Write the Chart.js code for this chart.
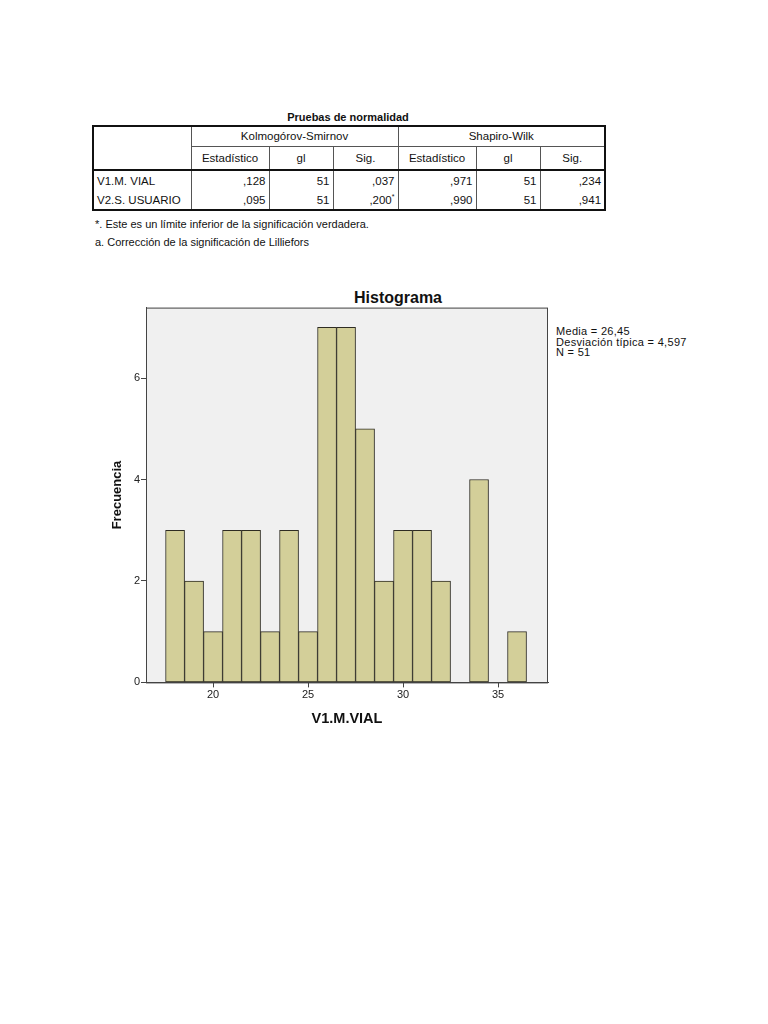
<!DOCTYPE html>
<html>
<head>
<meta charset="utf-8">
<script src="https://cdn.jsdelivr.net/npm/chart.js@4.4.1/dist/chart.umd.min.js"></script>
<style>
  html, body { margin: 0; padding: 0; background: #fff; }
  body { width: 768px; height: 1024px; position: relative; font-family: 'Liberation Sans', Arial, sans-serif; color: #111; }
  .caption { position: absolute; left: 92px; width: 512px; top: 111px; text-align: center; font-weight: bold; font-size: 11px; }
  table.norm { position: absolute; left: 92px; top: 125px; width: 512px; table-layout: fixed; border-collapse: collapse; font-size: 11.5px; border: 2px solid #111; }
  table.norm td { box-sizing: border-box; padding: 0 3px; height: 20px; border-left: 1px solid #555; white-space: nowrap; overflow: visible; }
  table.norm .h1 td { border-bottom: 1px solid #555; text-align: center; }
  table.norm .h2 td { text-align: center; border-bottom: 2px solid #111; height: 24px; }
  table.norm .d td { text-align: right; }
  table.norm .d td:first-child { text-align: left; }
  table.norm td.stub { border-right: 1px solid #555; }
  .note { position: absolute; left: 95px; font-size: 11px; }
  #wrap { position: absolute; left: 106px; top: 300px; width: 444px; height: 432px; }
  .title { position: absolute; left: 300px; width: 196px; top: 289px; text-align: center; font-weight: bold; font-size: 16px; color: #111; }
  .stats { position: absolute; left: 556px; top: 326px; font-size: 11px; letter-spacing: 0.3px; line-height: 10.5px; color: #111; }
</style>
</head>
<body>
<div class="caption">Pruebas de normalidad</div>
<table class="norm">
  <colgroup>
    <col style="width:98px"><col style="width:78px"><col style="width:64px"><col style="width:65px">
    <col style="width:78px"><col style="width:64px"><col style="width:65px">
  </colgroup>
  <tr class="h1">
    <td class="stub" rowspan="2" style="border-bottom:2px solid #111;"></td>
    <td colspan="3">Kolmogórov-Smirnov</td>
    <td colspan="3">Shapiro-Wilk</td>
  </tr>
  <tr class="h2">
    <td>Estadístico</td>
    <td>gl</td>
    <td>Sig.</td>
    <td>Estadístico</td>
    <td>gl</td>
    <td>Sig.</td>
  </tr>
  <tr class="d">
    <td class="stub">V1.M. VIAL</td><td>,128</td><td>51</td><td>,037</td><td>,971</td><td>51</td><td>,234</td>
  </tr>
  <tr class="d">
    <td class="stub">V2.S. USUARIO</td><td>,095</td><td>51</td><td>,200<sup style="font-size:7px;line-height:0">*</sup></td><td>,990</td><td>51</td><td>,941</td>
  </tr>
</table>
<div class="note" style="top:218px">*. Este es un límite inferior de la significación verdadera.</div>
<div class="note" style="top:236px">a. Corrección de la significación de Lilliefors</div>

<div class="title">Histograma</div>
<div class="stats">Media = 26,45<br>Desviación típica = 4,597<br>N = 51</div>
<div id="wrap"><canvas id="hist"></canvas></div>

<script>
// bin centres (width 1) and counts
const binCenters = [18, 19, 20, 21, 22, 23, 24, 25, 26, 27, 28, 29, 30, 31, 32, 33, 34, 35, 36];
const frequencies = [3, 2, 1, 3, 3, 1, 3, 1, 7, 7, 5, 2, 3, 3, 2, 0, 4, 0, 1];
const xTicks = [20, 25, 30, 35];
const yTicks = [0, 2, 4, 6];

// grey plot background and a frame round the chart area
const plotFrame = {
  id: 'plotFrame',
  beforeDraw(chart) {
    const a = chart.chartArea, ctx = chart.ctx;
    ctx.save();
    ctx.fillStyle = '#f0f0f0';
    ctx.fillRect(a.left, a.top, a.right - a.left, a.bottom - a.top);
    ctx.restore();
  },
  afterDraw(chart) {
    const a = chart.chartArea, ctx = chart.ctx;
    ctx.save();
    ctx.strokeStyle = '#444';
    ctx.lineWidth = 1;
    ctx.strokeRect(a.left + 0.5, a.top + 0.5, a.right - a.left - 1, a.bottom - a.top);
    ctx.restore();
  }
};

const fam = "'Liberation Sans', Arial, sans-serif";
const tickFont = { family: fam, size: 11 };

new Chart(document.getElementById('hist'), {
  type: 'bar',
  data: {
    datasets: [{
      data: binCenters.map((x, i) => ({ x: x, y: frequencies[i] })),
      backgroundColor: '#d3cf99',
      borderColor: '#2e2c22',
      borderWidth: 1,
      borderSkipped: false,
      barPercentage: 1,
      categoryPercentage: 1
    }]
  },
  plugins: [plotFrame],
  options: {
    responsive: true,
    maintainAspectRatio: false,
    animation: false,
    layout: { padding: { top: 7, right: 2, left: 0, bottom: 0 } },
    plugins: { legend: { display: false }, tooltip: { enabled: false } },
    scales: {
      x: {
        type: 'linear',
        min: 16.47,
        max: 37.63,
        offset: false,
        afterBuildTicks: (s) => { s.ticks = xTicks.map((v) => ({ value: v })); },
        grid: { offset: false, drawOnChartArea: false, drawTicks: true, tickLength: 5, color: '#444' },
        border: { color: '#444' },
        ticks: { color: '#222', font: tickFont, padding: 1, maxRotation: 0 },
        title: { display: true, text: 'V1.M.VIAL', color: '#111', font: { family: fam, size: 14.5, weight: 'bold' }, padding: { top: 8 } }
      },
      y: {
        min: 0,
        max: 7.39,
        afterBuildTicks: (s) => { s.ticks = yTicks.map((v) => ({ value: v })); },
        afterFit: (s) => { s.width = 40; },
        grid: { drawOnChartArea: false, drawTicks: true, tickLength: 5, color: '#444' },
        border: { color: '#444' },
        ticks: { color: '#222', font: tickFont, padding: 1 },
        title: { display: true, text: 'Frecuencia', color: '#111', font: { family: fam, size: 13, weight: 'bold' }, padding: { bottom: 12 } }
      }
    }
  }
});
</script>
</body>
</html>
